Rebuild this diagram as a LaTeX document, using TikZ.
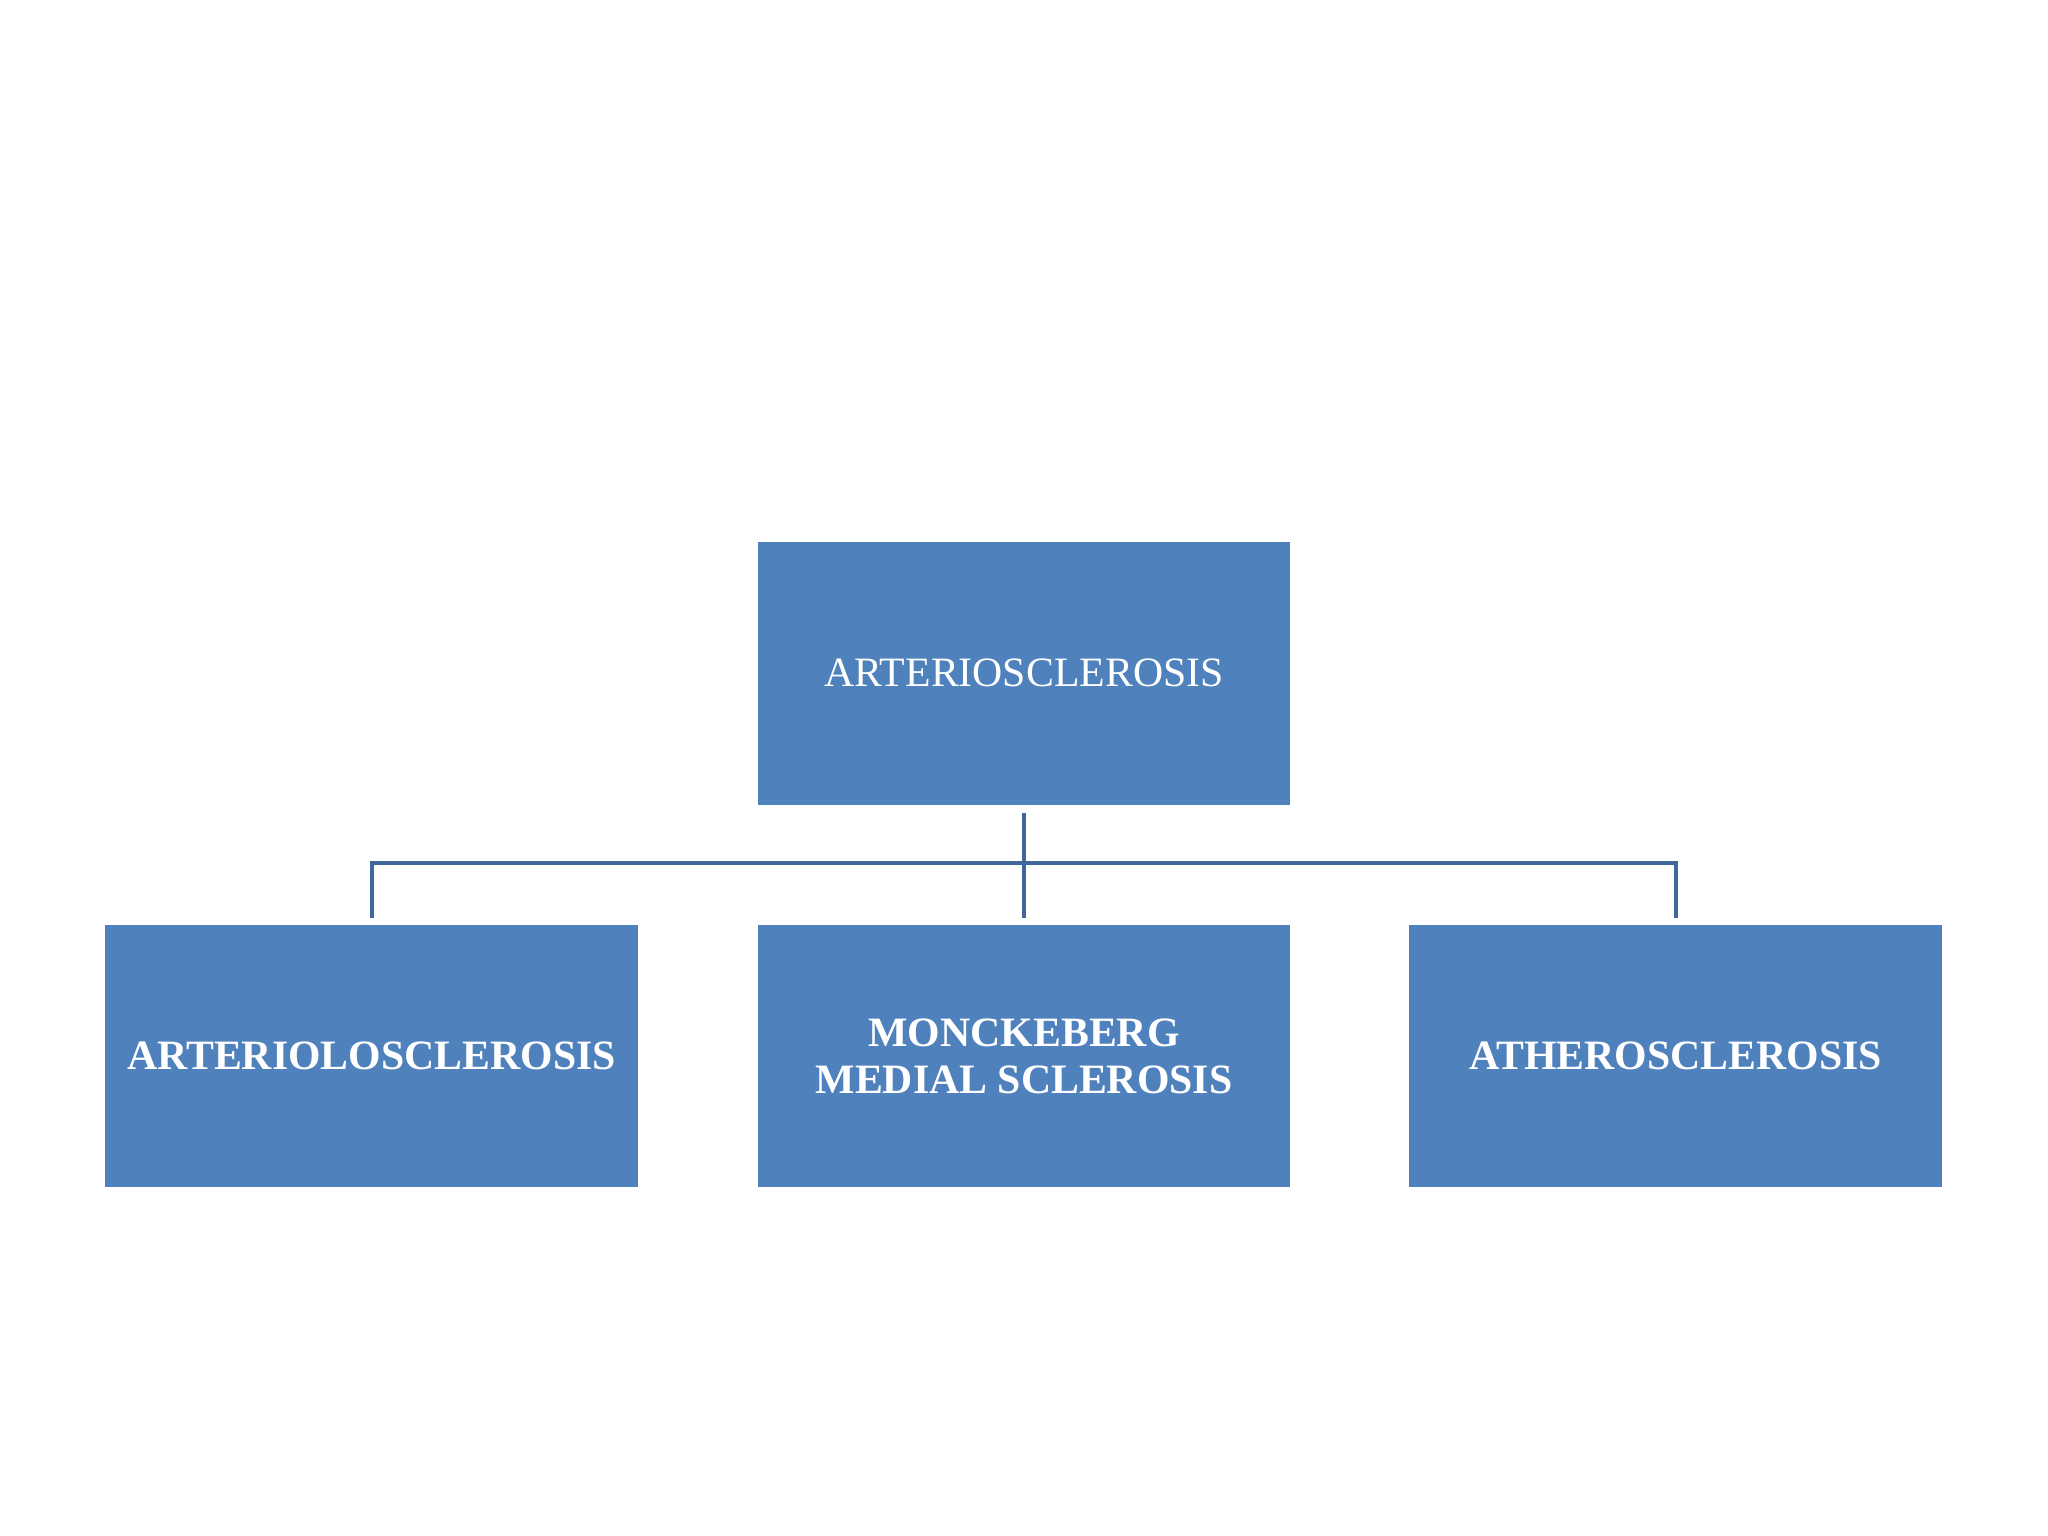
\documentclass[tikz,border=0pt]{standalone}
\usepackage{fontspec}
\setmainfont{Liberation Serif}
\begin{document}
\begin{tikzpicture}[x=0.5pt,y=-0.5pt,
  box/.style={fill=boxblue,draw=none,minimum width=204pt,minimum height=100.5pt,text=white,align=center,font=\fontsize{16}{18}\selectfont,inner sep=0pt},
  conn/.style={draw=lineblue,line width=1.5pt}]
\definecolor{boxblue}{HTML}{4F81BD}
\definecolor{lineblue}{HTML}{41669A}
\fill[white] (0,0) rectangle (1568,1176);
\node[box] (top) at (784,515.5) {ARTERIOSCLEROSIS};
\node[box,font=\fontsize{16}{18}\selectfont\bfseries] (left) at (284.5,808.5) {ARTERIOLOSCLEROSIS};
\node[box,font=\fontsize{16}{18}\selectfont\bfseries] (mid) at (784,808.5) {MONCKEBERG\\MEDIAL SCLEROSIS};
\node[box,font=\fontsize{16}{18}\selectfont\bfseries] (right) at (1283,808.5) {ATHEROSCLEROSIS};
\coordinate (bar) at (784,661);
\draw[conn] ([yshift=-3pt]top.south) -- ([yshift=2.5pt]mid.north);
\draw[conn] ([yshift=2.5pt]left.north) |- (bar) -| ([yshift=2.5pt]right.north);
\end{tikzpicture}
\end{document}
